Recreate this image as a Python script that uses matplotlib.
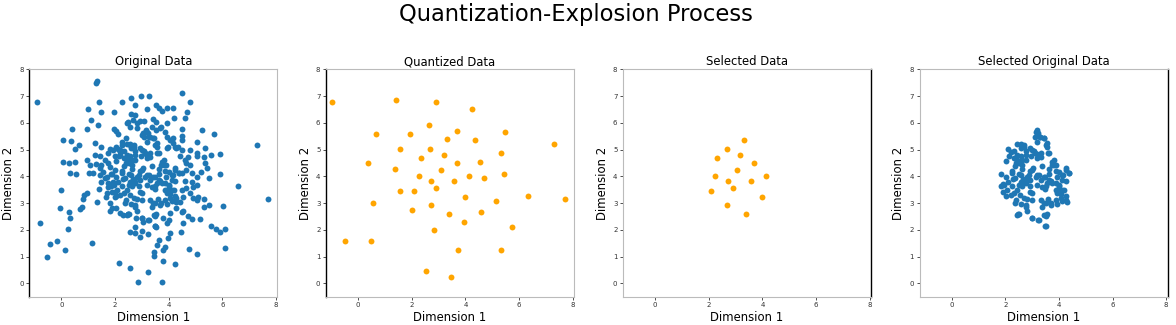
import numpy as np
import matplotlib
matplotlib.use("Agg")
import matplotlib.pyplot as plt

# ---------------- data ----------------
# Original points outside the selected cluster
orig_outer_x = [1.31, 1.27, -0.93, 4.49, 2.61, 2.96, 3.27, 4.81, 1.41, 3.52, 3.64, 3.76, 3.94, 4.17, 4.70,
                0.99, 1.46, 1.95, 2.25, 2.74, 3.20, 2.61, 2.74, 1.11, 2.92, 3.08, 3.42, 3.92, 4.19, 4.60,
                0.39, 0.96, 1.38, 1.96, 2.03, 2.45, 2.55, 2.80, 3.17, 3.52, 3.73, 4.48, 4.48, 5.24, 5.70,
                0.06, 0.35, 0.66, 0.50, 1.24, 1.49, 1.80, 2.24, 2.18, 5.04, 5.37, 5.04, 5.57, 5.91, 4.23,
                4.48, 4.41, 4.79, 5.04, 5.31, 5.35, 5.41, 5.51, 5.20, 5.91, 0.04, 0.29, 0.49, 0.96, 1.06,
                1.28, 1.49, 1.74, 1.43, 1.24, 0.31, 0.56, 1.03, 1.18, 1.43, 1.43, 1.62, 1.87, 4.85, 5.04,
                4.66, 4.60, -0.02, 0.85, 0.96, 0.81, 1.39, 1.34, 1.65, 1.68, 1.99, 1.74, 1.80, 1.99, 1.80,
                1.87, 2.05, 2.18, 2.30, 2.49, 0.68, 0.78, -0.04, 0.29, 0.31, 0.26, -0.81, -0.44, -0.16, 0.12,
                -0.53, 1.13, 2.15, 2.57, 3.22, 2.85, 3.74, 3.77, 4.23, 3.45, 3.45, 3.80, 3.88, 3.58, 3.64,
                3.96, 4.04, 4.47, 4.75, 5.06, 6.11, 6.10, 5.75, 5.91, 5.57, 5.18, 4.85, 4.72, 4.54, 4.54,
                4.48, 4.29, 4.91, 4.81, 4.91, 5.04, 5.10, 5.31, 5.31, 5.51, 6.03, 6.59, 7.30, 7.71, 2.77,
                3.05, 2.74, 2.55, 2.74, 3.00, 2.94, 3.23, 3.54, 3.92, 3.79, 4.02, 4.04, 4.29, 4.42, 4.54,
                4.66, 4.48, 2.11, 2.40, 2.24, 1.93, 1.74, 1.99, 2.05, 2.20, 2.49, 2.67, 2.82, 2.99, 3.05,
                3.92, 4.04, 4.17, 4.29, 4.17, 3.92, 3.98, 4.48, 4.35, 3.67, 3.86, 3.36, 3.54, 4.60, 4.66,
                4.79, 4.73, 4.51, 5.04, 4.85, 1.55, 1.68, 1.49, 1.74, 1.93, 1.80, 1.62, 1.99]
orig_outer_y = [7.56, 7.48, 6.77, 7.13, 6.92, 7.00, 7.00, 6.79, 6.78, 6.67, 6.54, 6.44, 6.54, 6.54, 6.42,
                6.53, 6.42, 6.42, 6.77, 6.67, 6.50, 6.32, 6.29, 6.11, 6.08, 6.08, 6.13, 6.01, 6.19, 6.17,
                5.76, 5.76, 5.92, 5.76, 5.69, 5.98, 5.86, 5.98, 5.69, 5.73, 5.83, 5.76, 5.51, 5.73, 5.58,
                5.36, 5.32, 5.17, 5.01, 5.26, 5.11, 5.01, 5.30, 4.98, 5.30, 5.05, 4.86, 4.80, 4.85, 5.08,
                4.98, 4.76, 4.98, 4.76, 4.73, 4.49, 4.30, 3.93, 4.17, 4.07, 4.54, 4.51, 4.52, 4.61, 4.42,
                4.45, 4.42, 4.49, 4.76, 4.81, 4.14, 4.07, 4.11, 4.11, 4.30, 4.05, 3.93, 4.07, 4.11, 3.99,
                4.24, 3.83, 3.49, 3.30, 3.36, 3.14, 3.51, 3.05, 3.24, 3.36, 3.43, 3.74, 2.99, 3.24, 2.72,
                2.80, 2.80, 2.62, 2.55, 2.59, 2.77, 2.87, 2.83, 2.68, 2.43, 2.02, 2.27, 1.47, 1.60, 1.25,
                1.00, 1.52, 0.75, 0.56, 0.44, 0.04, 0.06, 0.83, 0.72, 1.16, 1.03, 1.25, 1.35, 1.43, 1.62,
                1.68, 1.87, 1.91, 1.27, 1.10, 1.33, 2.03, 2.03, 1.93, 2.16, 2.39, 2.39, 2.52, 2.27, 2.72,
                2.68, 2.80, 3.59, 3.36, 3.18, 3.12, 3.24, 3.14, 2.87, 2.94, 2.89, 3.65, 5.17, 3.15, 2.43,
                2.31, 2.12, 1.93, 1.87, 1.97, 1.74, 1.83, 2.12, 2.24, 2.43, 2.37, 2.62, 3.18, 3.05, 3.24,
                3.55, 3.49, 5.58, 5.42, 5.17, 4.98, 4.86, 4.76, 5.11, 4.80, 6.04, 6.11, 5.79, 5.55, 5.61,
                5.48, 5.36, 5.23, 5.05, 5.42, 5.05, 5.11, 5.36, 5.11, 5.79, 5.67, 5.86, 6.04, 4.61, 4.49,
                4.42, 4.74, 4.11, 3.68, 3.80, 4.17, 3.99, 3.80, 3.61, 3.80, 4.36, 4.61, 4.24]

# Original points belonging to the selected clusters
sel_orig_x = [3.17, 3.23, 3.09, 3.29, 3.45, 3.19, 3.55, 3.57, 2.43, 2.57, 2.71, 2.58, 2.94, 2.10, 2.34,
              2.76, 3.07, 3.17, 3.32, 3.58, 2.14, 2.57, 2.97, 3.19, 2.32, 2.45, 2.76, 3.81, 2.02, 2.39,
              2.63, 3.73, 3.89, 3.38, 3.04, 2.63, 4.25, 3.63, 2.24, 2.94, 4.00, 4.37, 1.85, 2.26, 2.51,
              3.25, 3.63, 4.15, 2.02, 2.82, 3.13, 3.47, 3.91, 2.38, 2.67, 2.94, 3.32, 3.69, 4.12, 4.25,
              2.57, 2.76, 3.55, 3.88, 1.95, 2.50, 3.19, 1.85, 2.26, 2.91, 3.38, 4.00, 2.07, 2.45, 3.49,
              3.88, 4.19, 1.90, 3.01, 2.32, 3.94, 4.06, 2.04, 2.70, 2.82, 3.60, 4.25, 2.41, 3.32, 4.12,
              4.29, 2.38, 3.43, 3.71, 3.94, 3.38, 2.76, 2.82, 2.48, 3.54, 3.50, 3.01, 3.23, 3.48, 2.45,
              3.14, 3.28, 3.43, 3.50, 3.63, 2.57, 2.70, 3.01, 3.11, 3.32, 2.76, 3.75, 3.81, 3.88, 4.25,
              4.37, 4.12, 3.01, 2.88, 2.70, 2.58, 3.19, 3.43, 3.63, 3.50, 3.75, 4.00, 3.94, 4.12, 4.06,
              4.25, 2.94, 3.01, 2.76, 3.50, 3.69, 3.88, 3.01, 3.26, 3.44, 3.50, 2.63, 2.76, 2.51, 2.63,
              1.90, 2.10, 2.20, 2.35, 2.20, 2.45, 2.30, 2.55, 2.60, 2.50]
sel_orig_y = [5.72, 5.61, 5.46, 5.46, 5.42, 5.30, 5.24, 5.11, 5.19, 5.19, 5.16, 5.04, 5.04, 5.01, 4.93,
              4.93, 4.93, 4.84, 4.86, 4.89, 4.76, 4.76, 4.76, 4.68, 4.68, 4.61, 4.61, 4.61, 4.56, 4.49,
              4.43, 4.43, 4.43, 4.37, 4.30, 4.28, 4.30, 4.28, 4.20, 4.18, 4.17, 4.14, 4.08, 4.12, 4.08,
              4.05, 4.08, 4.05, 3.99, 3.97, 3.99, 3.97, 3.97, 3.93, 3.89, 3.87, 3.87, 3.84, 3.87, 3.83,
              3.78, 3.77, 3.74, 3.74, 3.68, 3.68, 3.68, 3.62, 3.62, 3.62, 3.59, 3.62, 3.50, 3.50, 3.52,
              3.50, 3.50, 3.40, 3.37, 3.37, 3.37, 3.33, 3.25, 3.18, 3.15, 3.17, 3.25, 3.10, 3.10, 3.06,
              3.05, 3.00, 3.00, 3.02, 2.97, 2.87, 2.87, 2.69, 2.60, 2.60, 2.50, 2.44, 2.38, 2.15, 2.56,
              5.67, 5.48, 5.42, 5.17, 4.86, 5.17, 5.11, 4.99, 4.86, 4.74, 4.80, 4.55, 4.43, 4.18, 4.24,
              4.14, 4.05, 4.24, 4.05, 3.87, 4.05, 4.05, 3.99, 3.87, 3.62, 3.74, 3.68, 3.49, 3.49, 3.18,
              3.12, 3.43, 3.12, 2.94, 3.00, 2.94, 3.12, 2.44, 2.38, 2.56, 2.13, 3.62, 3.74, 4.49, 4.61,
              3.70, 3.80, 3.30, 4.40, 4.90, 4.80, 3.90, 3.30, 2.95, 2.58]

# Quantized points
quant_x = [-0.97, 1.40, 2.92, 4.25, 2.64, 0.66, 1.92, 3.70, 5.48, 3.33, 4.35, 7.31, 1.57, 2.68, 3.19,
           5.33, 2.33, 0.35, 3.70, 4.55, 1.37, 3.08, 2.26, 4.15, 5.45, 4.70, 2.72, 3.58, 2.92, 1.55,
           2.09, 3.98, 6.33, 7.73, 0.55, 5.15, 2.70, 2.01, 4.59, 3.39, 3.95, 5.72, 2.82, -0.49, 0.49,
           3.74, 5.31, 2.53, 3.46]
quant_y = [6.77, 6.85, 6.78, 6.53, 5.91, 5.60, 5.57, 5.70, 5.65, 5.39, 5.34, 5.19, 5.01, 5.01, 4.80,
           4.86, 4.69, 4.48, 4.51, 4.53, 4.28, 4.22, 4.03, 4.03, 4.10, 3.93, 3.83, 3.83, 3.56, 3.45,
           3.46, 3.22, 3.28, 3.17, 3.01, 3.08, 2.91, 2.74, 2.67, 2.60, 2.29, 2.10, 1.99, 1.60, 1.60,
           1.23, 1.23, 0.45, 0.25]

# Selected quantized points
sel_x = [3.31, 2.67, 2.31, 3.17, 3.68, 3.06, 2.24, 4.14, 2.71, 3.57, 2.90, 2.08, 3.97, 2.69, 3.37]
sel_y = [5.37, 5.01, 4.69, 4.81, 4.51, 4.23, 4.03, 4.03, 3.83, 3.83, 3.56, 3.46, 3.22, 2.91, 2.60]

orig_x = orig_outer_x + sel_orig_x
orig_y = orig_outer_y + sel_orig_y

titles = ["Original Data", "Quantized Data", "Selected Data", "Selected Original Data"]
suptitle = "Quantization-Explosion Process"
xlabel = "Dimension 1"
ylabel = "Dimension 2"

BLUE = "#1f77b4"
ORANGE = "orange"

fig = plt.figure(figsize=(11.76, 3.25), dpi=100)
W, H = 1176, 325
lefts = [29.3, 326.0, 623.0, 919.5]
aw, top, bottom = 248.0, 69.3, 296.7

datasets = [(orig_x, orig_y, BLUE), (quant_x, quant_y, ORANGE),
            (sel_x, sel_y, ORANGE), (sel_orig_x, sel_orig_y, BLUE)]

for i, (l, (xs, ys, c)) in enumerate(zip(lefts, datasets)):
    ax = fig.add_axes([l / W, 1 - bottom / H, aw / W, (bottom - top) / H])
    ax.scatter(xs, ys, s=18, color=c, linewidths=0, zorder=3)
    ax.set_xlim(-1.2, 8.05)
    ax.set_ylim(-0.5, 8)
    ax.set_xticks([0, 2, 4, 6, 8])
    ax.set_yticks(range(0, 9))
    ax.tick_params(labelsize=5, length=2, width=0.6, colors="#333333", pad=2)
    ax.set_title(titles[i], fontsize=8.4, pad=3)
    ax.set_xlabel(xlabel, fontsize=8.4, labelpad=2)
    ax.set_ylabel(ylabel, fontsize=8.4, labelpad=3)
    for sp in ax.spines.values():
        sp.set_color("#bbbbbb")
        sp.set_linewidth(0.8)
    black = "left" if i < 2 else "right"
    ax.spines[black].set_color("black")
    ax.spines[black].set_linewidth(1.0)

fig.text(576 / W, 1 - 15 / H, suptitle, ha="center", va="center", fontsize=16.3)
fig.savefig("out.png", dpi=100)
